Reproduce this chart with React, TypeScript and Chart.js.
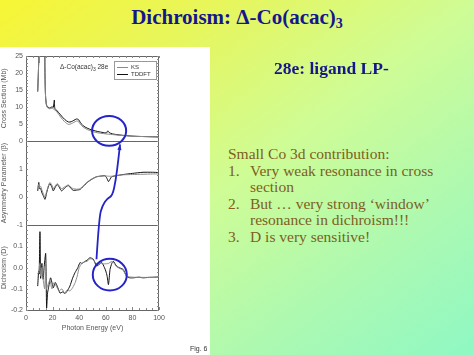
import React, { useEffect, useRef } from "react";
import { Chart, registerables } from "chart.js";

Chart.register(...registerables);

// ---------- data ----------
const xTicks = [0, 20, 40, 60, 80, 100];

// Cross section (Mb)
const csTddftX = [8.8, 9.3, 9.8, 10.1, 10.4, 13.8, 14.2, 14.6, 15.2, 16, 17, 18, 19.5, 20.5, 21.3, 21.7, 23, 26, 29, 32, 34, 36, 38, 39.5, 41, 43, 46, 50, 54, 58, 60.5, 61.5, 62.5, 65, 70, 75, 80, 85, 90, 95, 100];
const csTddftY = [14.5, 20, 26, 23, 40, 40, 22, 14, 11, 10, 9.8, 9.6, 10, 9.8, 12, 9.5, 9, 7.6, 6.3, 5.5, 5.6, 6, 6.4, 6.2, 5.3, 4.4, 3.7, 3.1, 2.7, 2.4, 2.3, 2.9, 2.4, 2, 1.7, 1.5, 1.35, 1.25, 1.2, 1.15, 1.1];
const csKsX = [8.8, 9.3, 9.8, 10.1, 10.4, 13.8, 14.2, 14.6, 15.2, 16, 17, 18, 19.5, 20.5, 23, 26, 29, 32, 34, 36, 38, 39.5, 41, 43, 46, 50, 54, 58, 62, 65, 70, 75, 80, 90, 100];
const csKsY = [14.5, 20, 26, 23, 40, 40, 22, 14, 10.8, 9.8, 9.5, 9.4, 9.6, 9.4, 8.6, 7, 5.6, 4.8, 5, 5.4, 5.8, 5.6, 4.8, 4, 3.3, 2.7, 2.3, 2.1, 1.9, 1.8, 1.6, 1.45, 1.3, 1.2, 1.1];

// Asymmetry parameter (beta)
const betaX = [8.8, 9.6, 10.2, 11, 12, 13, 14.3, 15.5, 17, 18, 19.5, 20.5, 22, 23.5, 25, 26.8, 29, 31.8, 34, 35.6, 38, 40.6, 43, 45.6, 49, 53, 57, 59.4, 60.5, 62, 63, 64.4, 68, 73, 80, 88, 95, 100];
const betaTddftY = [0.22, 0.52, 0.3, 0.3, 0.15, 0.05, -0.08, 0.15, 0.4, 0.48, 0.35, 0.22, 0.35, 0.45, 0.35, 0.22, 0.32, 0.41, 0.3, 0.24, 0.25, 0.27, 0.38, 0.5, 0.62, 0.72, 0.75, 0.76, 0.7, 0.55, 0.62, 0.72, 0.76, 0.8, 0.84, 0.88, 0.88, 0.87];
const betaKsY = [0.28, 0.45, 0.35, 0.38, 0.25, 0.12, 0.0, 0.2, 0.42, 0.52, 0.42, 0.3, 0.4, 0.48, 0.4, 0.3, 0.36, 0.43, 0.34, 0.3, 0.28, 0.3, 0.4, 0.52, 0.63, 0.72, 0.74, 0.75, 0.75, 0.74, 0.74, 0.74, 0.76, 0.79, 0.8, 0.81, 0.82, 0.82];

// Dichroism (D)
const dTddftX = [8.8, 9.5, 9.9, 10.5, 11, 11.5, 12, 12.5, 13, 13.6, 14.8, 15.5, 16.2, 16.8, 18.5, 20.5, 22, 23, 25.6, 27.5, 29.3, 31, 33, 35, 36.8, 39, 40.6, 42, 44.4, 46, 48, 50.6, 53, 55, 57, 59, 60, 61, 62, 63.2, 64.5, 65.7, 68, 70, 73, 75.6, 78, 80.6, 85, 88, 92, 96, 100];
const dTddftY = [-0.087, -0.016, -0.03, 0.17, -0.05, 0.0, 0.02, -0.04, -0.055, 0.0, 0.067, -0.19, -0.12, -0.1, -0.048, -0.095, -0.07, -0.08, -0.12, -0.115, -0.122, -0.11, -0.087, -0.05, -0.024, 0.0, 0.024, 0.02, 0.03, 0.035, 0.047, 0.04, 0.008, 0.015, 0.024, 0.0, -0.016, -0.04, -0.08, -0.008, 0.02, 0.03, 0.008, 0.0, -0.008, -0.04, -0.048, -0.048, -0.045, -0.048, -0.046, -0.045, -0.044];
const dKsX = [8.8, 9.5, 10.5, 11, 12, 13, 14, 14.8, 15.5, 16.5, 18, 19.5, 21, 23, 25, 27, 29, 31, 33, 35, 37, 38.5, 40, 42, 44.4, 46, 48, 50, 53, 56, 59, 62, 64, 65.7, 68, 70, 73, 75.6, 80, 88, 100];
const dKsY = [-0.03, -0.02, 0.02, -0.04, 0.0, -0.06, -0.1, -0.02, -0.1, -0.08, -0.06, -0.1, -0.07, -0.09, -0.11, -0.1, -0.12, -0.105, -0.11, -0.095, -0.07, -0.04, 0.0, 0.02, 0.028, 0.03, 0.042, 0.04, 0.02, 0.02, 0.018, 0.02, 0.028, 0.025, 0.005, -0.002, -0.012, -0.04, -0.045, -0.046, -0.046];

// blue annotation (data coordinates)
const ringTop = { x: 62.5, y: 2.9, rx: 12.8, ry: 4.4 };
const ringBottom = { x: 63, y: -0.033, rx: 12.8, ry: 0.075 };
const arrowPath: [number, string, number][] = [
  [53, "yD", 0.04],
  [55, "yB", -0.7],
  [57.5, "yB", -0.3],
  [61, "yB", -0.05],
  [65, "yB", 0.05],
  [67.5, "yB", 0.6],
  [69.5, "yB", 1.35],
  [70.7, "yB", 1.87],
];

const toPts = (xs: number[], ys: number[]) => xs.map((x, i) => ({ x, y: ys[i] }));

const BLUE = "#2424c8";

const framePlugin = {
  id: "frame",
  afterDatasetsDraw(chart: any) {
    const { ctx, chartArea, scales } = chart;
    ctx.save();
    ctx.strokeStyle = "#666";
    ctx.lineWidth = 1;
    ctx.strokeRect(chartArea.left + 0.5, chartArea.top + 0.5, chartArea.right - chartArea.left - 1, chartArea.bottom - chartArea.top);
    ["yB", "yD"].forEach((id) => {
      const s = scales[id];
      const y = Math.round(s.top) + 0.5;
      ctx.beginPath();
      ctx.moveTo(chartArea.left, y);
      ctx.lineTo(chartArea.right, y);
      ctx.stroke();
    });
    ctx.strokeStyle = "#888";
    ["yA", "yB", "yD"].forEach((id) => {
      const s = scales[id];
      const minor = s.ticks.length > 1 ? (s.ticks[1].value - s.ticks[0].value) / 5 : 1;
      for (let v = s.min; v <= s.max + 1e-9; v += minor) {
        const y = Math.round(s.getPixelForValue(v)) + 0.5;
        ctx.beginPath();
        ctx.moveTo(chartArea.left, y);
        ctx.lineTo(chartArea.left + 2, y);
        ctx.moveTo(chartArea.right, y);
        ctx.lineTo(chartArea.right - 2, y);
        ctx.stroke();
      }
    });
    const xs = scales.x;
    for (let v = 0; v <= 100; v += 5) {
      const x = Math.round(xs.getPixelForValue(v)) + 0.5;
      ctx.beginPath();
      ctx.moveTo(x, chartArea.bottom);
      ctx.lineTo(x, chartArea.bottom - (v % 20 === 0 ? 3 : 2));
      ctx.moveTo(x, chartArea.top);
      ctx.lineTo(x, chartArea.top + 2);
      ctx.stroke();
    }
    ctx.restore();
  },
  afterDraw(chart: any) {
    const { ctx, scales } = chart;
    const X = (v: number) => scales.x.getPixelForValue(v);
    ctx.save();
    ctx.strokeStyle = BLUE;
    ctx.lineWidth = 2;
    const ring = (r: any, id: string) => {
      const s = scales[id];
      const cx = X(r.x);
      const cy = s.getPixelForValue(r.y);
      const rx = X(r.x + r.rx) - cx;
      const ry = cy - s.getPixelForValue(r.y + r.ry);
      ctx.beginPath();
      ctx.ellipse(cx, cy, rx, ry, 0, 0, Math.PI * 2);
      ctx.stroke();
    };
    ring(ringTop, "yA");
    ring(ringBottom, "yD");
    ctx.lineWidth = 1.8;
    const pts = arrowPath.map(([x, id, y]) => [X(x), scales[id].getPixelForValue(y)]);
    ctx.beginPath();
    ctx.moveTo(pts[0][0], pts[0][1]);
    for (let i = 1; i < pts.length - 1; i++) {
      const mx = (pts[i][0] + pts[i + 1][0]) / 2;
      const my = (pts[i][1] + pts[i + 1][1]) / 2;
      ctx.quadraticCurveTo(pts[i][0], pts[i][1], mx, my);
    }
    const last = pts[pts.length - 1];
    ctx.lineTo(last[0], last[1]);
    ctx.stroke();
    const prev = pts[pts.length - 2];
    const ang = Math.atan2(last[1] - prev[1], last[0] - prev[0]);
    ctx.fillStyle = BLUE;
    ctx.beginPath();
    ctx.moveTo(last[0], last[1]);
    ctx.lineTo(last[0] - 6 * Math.cos(ang - 0.35), last[1] - 6 * Math.sin(ang - 0.35));
    ctx.lineTo(last[0] - 6 * Math.cos(ang + 0.35), last[1] - 6 * Math.sin(ang + 0.35));
    ctx.closePath();
    ctx.fill();
    ctx.restore();
  },
};

function ChartPanel() {
  const ref = useRef<HTMLCanvasElement>(null);
  useEffect(() => {
    const font = { family: "Arial, 'Liberation Sans', sans-serif", size: 7 };
    const yBase = (min: number, max: number, step: number, title: string, weight: number, hide: number[], dec: number) => ({
      type: "linear" as const,
      position: "left" as const,
      stack: "panels",
      stackWeight: 1,
      weight,
      min,
      max,
      grid: { display: false, drawTicks: false },
      border: { display: false },
      ticks: {
        stepSize: step,
        autoSkip: false,
        color: "#555",
        font,
        padding: 3,
        callback: (v: any) => (hide.some((h) => Math.abs(h - v) < 1e-6) ? "" : Number(v).toFixed(dec)),
      },
      title: { display: true, text: title, color: "#555", font, padding: { top: 0, bottom: 2 } },
      afterFit: (s: any) => {
        s.width = 26;
      },
    });
    const chart = new Chart(ref.current!, {
      type: "line",
      data: {
        datasets: [
          { label: "KS", data: toPts(csKsX, csKsY), yAxisID: "yA", borderColor: "#8a8a8a", borderWidth: 1, pointRadius: 0, tension: 0.3 },
          { label: "TDDFT", data: toPts(csTddftX, csTddftY), yAxisID: "yA", borderColor: "#111", borderWidth: 1, pointRadius: 0, tension: 0.3 },
          { label: "KS", data: toPts(betaX, betaKsY), yAxisID: "yB", borderColor: "#8a8a8a", borderWidth: 1, pointRadius: 0, tension: 0.2 },
          { label: "TDDFT", data: toPts(betaX, betaTddftY), yAxisID: "yB", borderColor: "#111", borderWidth: 1, pointRadius: 0, tension: 0.2 },
          { label: "KS", data: toPts(dKsX, dKsY), yAxisID: "yD", borderColor: "#8a8a8a", borderWidth: 1, pointRadius: 0, tension: 0.2 },
          { label: "TDDFT", data: toPts(dTddftX, dTddftY), yAxisID: "yD", borderColor: "#111", borderWidth: 1, pointRadius: 0, tension: 0.2 },
        ],
      },
      options: {
        animation: false,
        responsive: false,
        parsing: false as any,
        layout: { padding: { left: 0, right: 51, top: 9, bottom: 19 } },
        plugins: { legend: { display: false }, tooltip: { enabled: false } },
        scales: {
          x: {
            type: "linear",
            min: 0,
            max: 100,
            afterBuildTicks: (s: any) => {
              s.ticks = xTicks.map((v) => ({ value: v }));
            },
            grid: { display: false, drawTicks: false },
            border: { display: false },
            ticks: { color: "#555", font, padding: 4, maxRotation: 0 },
            title: { display: true, text: "Photon Energy (eV)", color: "#555", font, padding: { top: 2, bottom: 4 } },
            afterFit: (s: any) => {
              s.height = 26;
            },
          },
          yA: yBase(0, 25, 5, "Cross Section (Mb)", 3, [], 0),
          yB: yBase(-1, 2, 1, "Asymmetry Parameter (β)", 2, [2], 0),
          yD: yBase(-0.2, 0.2, 0.1, "Dichroism (D)", 1, [0.2], 1),
        } as any,
      },
      plugins: [framePlugin],
    });
    return () => chart.destroy();
  }, []);
  return <canvas ref={ref} width={210} height={308} style={{ display: "block" }} />;
}

export default function App() {
  const serif = "'Liberation Serif', 'Times New Roman', serif";
  const navy = "#16168c";
  const brown = "#7d5f22";
  const sans = "'Liberation Sans', Arial, sans-serif";
  return (
    <div
      style={{
        position: "fixed",
        left: 0,
        top: 0,
        width: 474,
        height: 355,
        overflow: "hidden",
        background: "linear-gradient(to bottom right, #f7f535 0%, #e6f65e 25%, #cffc95 50%, #aef9b0 75%, #8ff8c4 100%)",
        fontFamily: serif,
      }}
    >
      <div style={{ position: "absolute", left: 0, top: 3, width: 474, textAlign: "center", color: navy, fontWeight: "bold", fontSize: 21, lineHeight: "28px" }}>
        Dichroism: Δ-Co(acac)<sub style={{ fontSize: 14, verticalAlign: "-4px", lineHeight: 0 }}>3</sub>
      </div>
      <div style={{ position: "absolute", left: 0, top: 47, width: 210, height: 308, background: "#fff" }}>
        <ChartPanel />
        <div style={{ position: "absolute", left: 60, top: 16, fontFamily: sans, fontSize: 6.5, color: "#333", whiteSpace: "nowrap" }}>
          Δ-Co(acac)<sub style={{ fontSize: 5, lineHeight: 0 }}>3</sub> 28e
        </div>
        <div style={{ position: "absolute", left: 114, top: 14, width: 41, height: 17, border: "1px solid #999", background: "#fff", fontFamily: sans, fontSize: 6, color: "#333" }}>
          <div style={{ position: "absolute", left: 2, top: 5, width: 11, borderTop: "1px solid #8a8a8a" }} />
          <div style={{ position: "absolute", left: 16, top: 1, lineHeight: "8px" }}>KS</div>
          <div style={{ position: "absolute", left: 2, top: 12, width: 11, borderTop: "1px solid #111" }} />
          <div style={{ position: "absolute", left: 16, top: 8, lineHeight: "8px" }}>TDDFT</div>
        </div>
        <div style={{ position: "absolute", left: 190, top: 298, fontFamily: sans, fontSize: 7, color: "#333", whiteSpace: "nowrap" }}>Fig. 6</div>
      </div>
      <div style={{ position: "absolute", left: 274, top: 57, color: navy, fontWeight: "bold", fontSize: 17.5, lineHeight: "22px", whiteSpace: "nowrap" }}>28e: ligand LP-</div>
      <div style={{ position: "absolute", left: 228, top: 146, color: brown, fontSize: 15.5, lineHeight: "16.5px", whiteSpace: "nowrap" }}>
        <div>Small Co 3d contribution:</div>
        <div style={{ display: "flex" }}><span style={{ width: 22 }}>1.</span><span>Very weak resonance in cross<br />section</span></div>
        <div style={{ display: "flex" }}><span style={{ width: 22 }}>2.</span><span>But … very strong ‘window’<br />resonance in dichroism!!!</span></div>
        <div style={{ display: "flex" }}><span style={{ width: 22 }}>3.</span><span>D is very sensitive!</span></div>
      </div>
    </div>
  );
}
